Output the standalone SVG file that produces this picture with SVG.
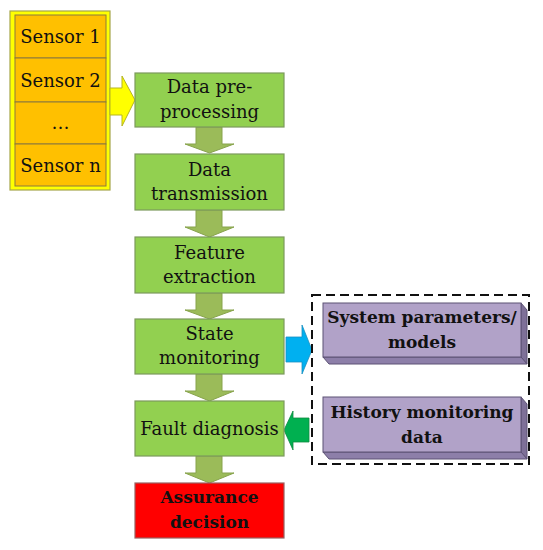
<svg xmlns="http://www.w3.org/2000/svg" width="543" height="550" viewBox="0 0 543 550">
<style>
.t{font-family:"DejaVu Serif","Liberation Serif",serif;font-size:18px;fill:#111;text-anchor:middle}
.b{font-family:"DejaVu Serif","Liberation Serif",serif;font-size:17px;font-weight:bold;fill:#111;text-anchor:middle}
.g{fill:#92D050;stroke:#7c9a5c;stroke-width:1.2}
.cell{fill:#FFC000;stroke:#8c7a3c;stroke-width:1}
.ol{fill:#9BBB59;stroke:#87a34c;stroke-width:1}
.pf{fill:#B1A2C8;stroke:#5d5275;stroke-width:1}
.ps{fill:#7E7098;stroke:#5d5275;stroke-width:1}
.pb{fill:#8D7FA9;stroke:#5d5275;stroke-width:1}
</style>
<rect width="543" height="550" fill="#fff"/>
<g id="sensors">
<rect x="10" y="11" width="100" height="179" fill="#FFFF00" stroke="#a6a64a" stroke-width="1.2"/>
<rect class="cell" x="15" y="15" width="91" height="43"/>
<rect class="cell" x="15" y="58" width="91" height="44"/>
<rect class="cell" x="15" y="102" width="91" height="42"/>
<rect class="cell" x="15" y="144" width="91" height="42"/>
<text class="t" x="60.5" y="43">Sensor 1</text>
<text class="t" x="60.5" y="87">Sensor 2</text>
<text class="t" x="60.5" y="129">…</text>
<text class="t" x="60.5" y="172">Sensor n</text>
</g>
<g id="connectors">
<polygon points="110,88 122,88 122,76 135,100 122,126 122,115 110,115" fill="#FFFF00" stroke="#b5b520" stroke-width="1"/>
<polygon class="ol" points="196,127 222,127 222,144 234,144 209.5,153 185,144 196,144"/>
<polygon class="ol" points="196,210 222,210 222,227 234,227 209.5,237 185,227 196,227"/>
<polygon class="ol" points="196,293 222,293 222,310 234,310 209.5,319 185,310 196,310"/>
<polygon class="ol" points="196,374 222,374 222,391 234,391 209.5,401 185,391 196,391"/>
<polygon class="ol" points="196,456 222,456 222,473 234,473 209.5,483 185,473 196,473"/>
<polygon points="286,337 302,337 302,325 312,350 302,374 302,362 286,362" fill="#00B0F0" stroke="#1a8fc0" stroke-width="0.8"/>
<polygon points="309,418 293,418 293,411 284,430 293,450 293,442 309,442" fill="#00B050" stroke="#108a40" stroke-width="0.8"/>
</g>
<g id="pre">
<rect class="g" x="135" y="73" width="149" height="54"/>
<text class="t" x="209.5" y="93">Data pre-</text>
<text class="t" x="209.5" y="118">processing</text>
</g>
<g id="trans">
<rect class="g" x="135" y="154" width="149" height="56"/>
<text class="t" x="209.5" y="176">Data</text>
<text class="t" x="209.5" y="200">transmission</text>
</g>
<g id="feature">
<rect class="g" x="135" y="237" width="149" height="56"/>
<text class="t" x="209.5" y="259">Feature</text>
<text class="t" x="209.5" y="283">extraction</text>
</g>
<g id="state">
<rect class="g" x="135" y="319" width="149" height="55"/>
<text class="t" x="209.5" y="340">State</text>
<text class="t" x="209.5" y="364">monitoring</text>
</g>
<g id="fault">
<rect class="g" x="135" y="401" width="149" height="55"/>
<text class="t" x="209.5" y="435">Fault diagnosis</text>
</g>
<g id="assurance">
<rect x="135" y="483" width="149" height="55" fill="#FF0000" stroke="#9a6060" stroke-width="1.2"/>
<text class="b" x="209.5" y="503">Assurance</text>
<text class="b" x="209.5" y="528">decision</text>
</g>
<rect id="group" x="312" y="295" width="217" height="169" fill="none" stroke="#111" stroke-width="2" stroke-dasharray="9,5"/>
<g id="sysparams">
<polygon class="ps" points="521,303 527,310 527,364 521,357"/>
<polygon class="pb" points="323,357 521,357 527,364 329,364"/>
<rect class="pf" x="323" y="303" width="198" height="54"/>
<text class="b" x="422" y="323">System parameters/</text>
<text class="b" x="422" y="348">models</text>
</g>
<g id="history">
<polygon class="ps" points="521,397 527,404 527,459 521,452"/>
<polygon class="pb" points="323,452 521,452 527,459 329,459"/>
<rect class="pf" x="323" y="397" width="198" height="55"/>
<text class="b" x="422" y="418">History monitoring</text>
<text class="b" x="422" y="443">data</text>
</g>
</svg>
